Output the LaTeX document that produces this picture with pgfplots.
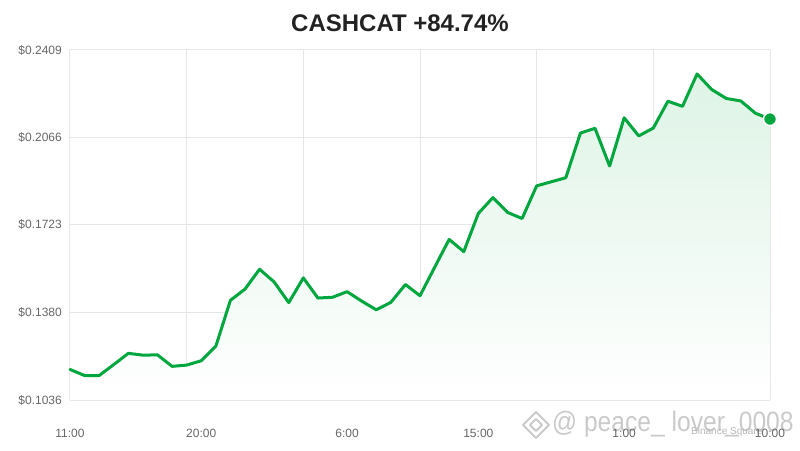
\documentclass[border=0pt]{standalone}
\usepackage{pgfplots}
\pgfplotsset{compat=1.18}
\usepackage{pgfplotstable}
\usepackage{fontspec}
\setmainfont{Liberation Sans}
\definecolor{cgreen}{HTML}{00A63E}
\definecolor{gridc}{HTML}{E6E6E6}
\definecolor{tickc}{HTML}{666666}
\definecolor{titlec}{HTML}{222222}
\definecolor{wmc}{HTML}{CACACA}
\pgfplotstableread{
i v
0 0.1156
1 0.1132
2 0.1132
3 0.1175
4 0.1219
5 0.1212
6 0.1213
7 0.1168
8 0.1173
9 0.1190
10 0.1247
11 0.1427
12 0.1471
13 0.1549
14 0.1499
15 0.1418
16 0.1515
17 0.1436
18 0.1439
19 0.1461
20 0.1424
21 0.1390
22 0.1419
23 0.1489
24 0.1445
25 0.1556
26 0.1666
27 0.1618
28 0.1768
29 0.1830
30 0.1772
31 0.1748
32 0.1876
33 0.1892
34 0.1908
35 0.2083
36 0.2102
37 0.1954
38 0.2143
39 0.2072
40 0.2103
41 0.2208
42 0.2188
43 0.2315
44 0.2254
45 0.2219
46 0.2209
47 0.2161
48 0.2138
}\pricedata
\begin{document}
\begin{tikzpicture}
\path[use as bounding box] (0pt,0pt) rectangle (800pt,450pt);
\node[font=\fontsize{24}{28}\selectfont\bfseries, text=titlec] at (400pt,427pt) {CASHCAT +84.74\%};
% watermark (drawn beneath the chart texts)
\draw[wmc, line width=2pt, line join=round] (536pt,38pt) -- (549pt,25pt) -- (536pt,12pt) -- (523pt,25pt) -- cycle;
\draw[wmc, line width=2pt, line join=round] (536pt,31pt) -- (542pt,25pt) -- (536pt,19pt) -- (530pt,25pt) -- cycle;
\node[font=\fontsize{28}{30}\selectfont, text=wmc, anchor=west, inner sep=0pt] at (552pt,26pt) {\scalebox{0.88}[1]{@ peace\_ lover\_0008}};
\node[font=\fontsize{10}{12}\selectfont, text=black!28, anchor=west, inner sep=0pt] at (691pt,18pt) {Binance Square};
\begin{axis}[
  at={(70pt,50pt)}, anchor=south west,
  scale only axis, width=700pt, height=350pt,
  xmin=0, xmax=48, ymin=0.1036, ymax=0.2409,
  axis line style={draw=none},
  xtick={0,8,...,48}, xticklabels={},
  extra x ticks={0,9,19,28,38,48},
  extra x tick labels={11:00,20:00,6:00,15:00,1:00,10:00},
  extra x tick style={grid=none},
  ytick={0.1036,0.1380,0.1723,0.2066,0.2409},
  yticklabels={\$0.1036,\$0.1380,\$0.1723,\$0.2066,\$0.2409},
  grid=major,
  major grid style={draw=gridc, line width=1pt},
  major tick length=0pt,
  tick style={draw=none},
  xticklabel style={font=\fontsize{12}{14}\selectfont, text=tickc, anchor=center, inner sep=0pt, yshift=-33pt},
  yticklabel style={font=\fontsize{12}{14}\selectfont, text=tickc, anchor=east, inner sep=0pt, xshift=-8pt},
  /pgf/number format/assume math mode=true,
  clip=false,
]
\addplot[draw=none, top color=cgreen!13, bottom color=white] table[x=i,y=v] {\pricedata} \closedcycle;
\addplot[cgreen, line width=3pt, line join=round, line cap=round] table[x=i,y=v] {\pricedata};
\addplot[only marks, mark=*, mark size=6.5pt, mark options={fill=cgreen, draw=white, line width=1.5pt}] coordinates {(48,0.2138)};
\end{axis}
\end{tikzpicture}
\end{document}
